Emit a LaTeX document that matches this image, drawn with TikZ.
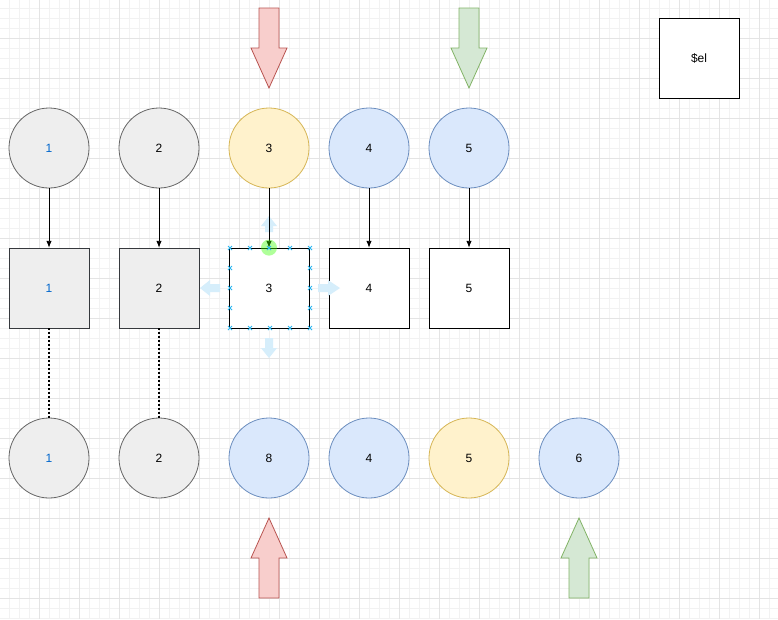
\documentclass[tikz,border=0pt]{standalone}
\usepackage{fontspec}
\setmainfont{Liberation Sans}
\usetikzlibrary{arrows.meta}
\begin{document}
\begin{tikzpicture}[x=0.75pt,y=-0.75pt,font=\fontsize{9}{10}\selectfont,
  circ/.style={circle,minimum size=60pt,inner sep=0pt,line width=0.6pt},
  sq/.style={rectangle,minimum size=60pt,inner sep=0pt,line width=0.6pt},
  gray/.style={fill=grayF,draw=grayS},
  yel/.style={fill=yelF,draw=yelS},
  blu/.style={fill=bluF,draw=bluS},
  wsq/.style={sq,fill=white,draw=black},
  gsq/.style={sq,fill=grayF,draw=grayS2},
  conn/.style={-{Latex[length=5pt,width=4pt]},line width=0.6pt},
  dotc/.style={dotted,line width=1pt},
  redA/.style={fill=redF,draw=redS,line width=0.6pt},
  grnA/.style={fill=grnF,draw=grnS,line width=0.6pt},
  hx/.style={draw=hnd,line width=0.6pt},
  ghost/.style={fill=ghostC,draw=none}]
\definecolor{grayF}{HTML}{EEEEEE}\definecolor{grayS}{HTML}{666666}\definecolor{grayS2}{HTML}{36393D}
\definecolor{yelF}{HTML}{FFF2CC}\definecolor{yelS}{HTML}{D6B656}
\definecolor{bluF}{HTML}{DAE8FC}\definecolor{bluS}{HTML}{6C8EBF}
\definecolor{redF}{HTML}{F8CECC}\definecolor{redS}{HTML}{B85450}
\definecolor{grnF}{HTML}{D5E8D4}\definecolor{grnS}{HTML}{82B366}
\definecolor{gridm}{HTML}{F2F2F2}\definecolor{gridM}{HTML}{E4E4E4}
\definecolor{hnd}{HTML}{29B6F2}\definecolor{ghostC}{HTML}{D6EEFB}
\definecolor{numb}{HTML}{0066CC}
\useasboundingbox (0,0) rectangle (778,619);
\fill[white] (0,0) rectangle (778,619);
\foreach \i in {0,...,78} {\draw[gridm,line width=0.5pt] (\i*10-1,0) -- (\i*10-1,619);}
\foreach \i in {0,...,62} {\draw[gridm,line width=0.5pt] (0,\i*10-2) -- (778,\i*10-2);}
\foreach \i in {0,...,20} {\draw[gridM,line width=0.5pt] (\i*40-1,0) -- (\i*40-1,619);}
\foreach \i in {0,...,16} {\draw[gridM,line width=0.5pt] (0,\i*40-2) -- (778,\i*40-2);}
% top circles
\node[circ,gray,text=numb] (t1) at (49,148) {1};
\node[circ,gray] (t2) at (159,148) {2};
\node[circ,yel] (t3) at (269,148) {3};
\node[circ,blu] (t4) at (369,148) {4};
\node[circ,blu] (t5) at (469,148) {5};
% squares
\node[gsq,text=numb] (s1) at (49,288) {1};
\node[gsq] (s2) at (159,288) {2};
\node[wsq] (s3) at (269,288) {3};
\node[wsq] (s4) at (369,288) {4};
\node[wsq] (s5) at (469,288) {5};
% bottom circles
\node[circ,gray,text=numb] (b1) at (49,458) {1};
\node[circ,gray] (b2) at (159,458) {2};
\node[circ,blu] (b3) at (269,458) {8};
\node[circ,blu] (b4) at (369,458) {4};
\node[circ,yel] (b5) at (469,458) {5};
\node[circ,blu] (b6) at (579,458) {6};
\node[wsq] (el) at (699,58) {\$el};
% selection decorations
\fill[ghost] (265,232) -- (265,226) -- (261,226) -- (269,216) -- (277,226) -- (273,226) -- (273,232) -- cycle;
\fill[ghost] (265,338) -- (273,338) -- (273,348) -- (277,348) -- (269,358) -- (261,348) -- (265,348) -- cycle;
\fill[ghost] (220,284) -- (210,284) -- (210,280) -- (200,288) -- (210,296) -- (210,292) -- (220,292) -- cycle;
\fill[ghost] (318,284) -- (328,284) -- (328,280) -- (340,288) -- (328,296) -- (328,292) -- (318,292) -- cycle;
% connectors
\draw[conn] (t1) -- (s1);
\draw[conn] (t2) -- (s2);
\draw[conn] (t3) -- (s3);
\draw[conn] (t4) -- (s4);
\draw[conn] (t5) -- (s5);
\draw[dotc] (s1) -- (b1);
\draw[dotc] (s2) -- (b2);
\fill[green!70!lime,opacity=0.4] (s3.north) circle (8);
\foreach \px/\py in {230/248,250/248,290/248,310/248,230/268,230/288,230/308,310/268,310/288,310/308,230/328,250/328,270/328,290/328,310/328,269/248}
  {\draw[hx] (\px-2,\py-2) -- (\px+2,\py+2) (\px-2,\py+2) -- (\px+2,\py-2);}
% block arrows
\draw[redA] (259,8) -- (279,8) -- (279,48) -- (287,48) -- (269,88) -- (251,48) -- (259,48) -- cycle;
\draw[grnA] (459,8) -- (479,8) -- (479,48) -- (487,48) -- (469,88) -- (451,48) -- (459,48) -- cycle;
\draw[redA] (259,598) -- (279,598) -- (279,558) -- (287,558) -- (269,518) -- (251,558) -- (259,558) -- cycle;
\draw[grnA] (569,598) -- (589,598) -- (589,558) -- (597,558) -- (579,518) -- (561,558) -- (569,558) -- cycle;
\end{tikzpicture}
\end{document}
